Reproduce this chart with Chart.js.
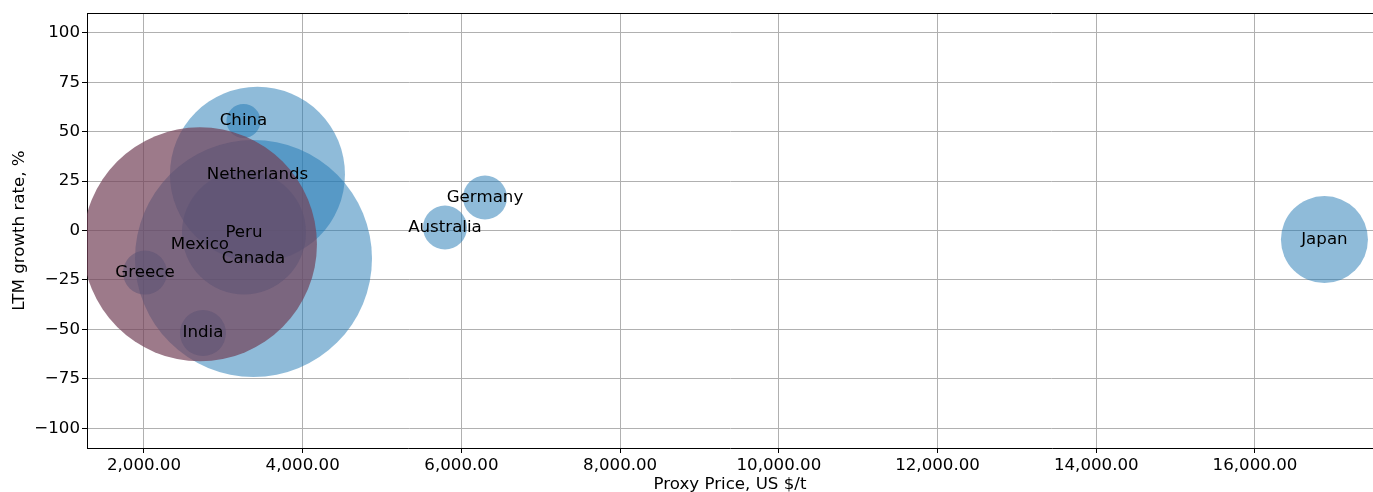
<!DOCTYPE html>
<html><head><meta charset="utf-8">
<script src="https://cdn.jsdelivr.net/npm/chart.js@4.4.0/dist/chart.umd.min.js"></script>
<style>html,body{margin:0;padding:0;background:#fff;} canvas{display:block;}</style>
</head><body>
<canvas id="c" width="1373" height="492"></canvas>
<script>
// Data
const countries   = ['Canada', 'Netherlands', 'Peru', 'China', 'Greece', 'India', 'Australia', 'Germany', 'Japan'];
const proxyPrice  = [3380, 3430, 3260, 3254, 2013, 2743, 5793, 6297, 16875];
const growthRate  = [-14.2, 28.4, -1.0, 55.4, -21.3, -51.9, 1.5, 16.7, -4.6];
const bubbleSize  = [118.5, 87.5, 62, 17, 22, 23, 22, 22, 43.5];

const highlightCountries = ['Mexico'];
const highlightPrice     = [2705];
const highlightGrowth    = [-7.0];
const highlightSize      = [117];

const xTickValues = [2000, 4000, 6000, 8000, 10000, 12000, 14000, 16000];
const yTickValues = [-100, -75, -50, -25, 0, 25, 50, 75, 100];

const FONT = '"DejaVu Sans", sans-serif';
const FSIZE = 16.67;

const toPoints = (xs, ys, rs) => xs.map((v, i) => ({ x: v, y: ys[i], r: rs[i] }));

const labelPlugin = {
  id: 'bubbleLabels',
  afterDraw(chart) {
    const { ctx, chartArea, scales: { x, y } } = chart;
    ctx.save();
    // top spine
    ctx.strokeStyle = '#000';
    ctx.lineWidth = 1;
    ctx.beginPath();
    ctx.moveTo(chartArea.left, chartArea.top + 0.5);
    ctx.lineTo(chartArea.right, chartArea.top + 0.5);
    ctx.stroke();
    // labels
    ctx.font = FSIZE + 'px ' + FONT;
    ctx.fillStyle = '#000';
    ctx.textAlign = 'center';
    ctx.textBaseline = 'middle';
    const draw = (names, xs, ys) => names.forEach((n, i) => {
      ctx.fillText(n, x.getPixelForValue(xs[i]), y.getPixelForValue(ys[i]));
    });
    draw(countries, proxyPrice, growthRate);
    draw(highlightCountries, highlightPrice, highlightGrowth);
    ctx.restore();
  }
};

new Chart(document.getElementById('c'), {
  type: 'bubble',
  data: {
    datasets: [
      {
        label: 'Highlight',
        data: toPoints(highlightPrice, highlightGrowth, highlightSize),
        backgroundColor: 'rgba(116,65,88,0.7)',
        borderWidth: 0,
        hoverBorderWidth: 0,
        order: 0,
        clip: 0
      },
      {
        label: 'Markets',
        data: toPoints(proxyPrice, growthRate, bubbleSize),
        backgroundColor: 'rgba(31,119,180,0.5)',
        borderWidth: 0,
        hoverBorderWidth: 0,
        order: 1,
        clip: 0
      }
    ]
  },
  options: {
    responsive: false,
    animation: false,
    events: [],
    layout: { autoPadding: false, padding: { top: 13, right: 0, left: 0, bottom: 0 } },
    plugins: { legend: { display: false }, tooltip: { enabled: false } },
    scales: {
      x: {
        type: 'linear',
        min: 1282,
        max: 17487,
        z: 1,
        afterBuildTicks: s => { s.ticks = xTickValues.map(v => ({ value: v })); },
        afterFit: s => { s.height = 44; },
        grid: { color: '#b0b0b0', lineWidth: 1, tickColor: '#000', tickLength: 5 },
        border: { display: true, color: '#000', width: 1 },
        ticks: {
          color: '#000',
          font: { family: FONT, size: FSIZE },
          padding: 3,
          maxRotation: 0,
          autoSkip: false,
          callback: v => Number(v).toLocaleString('en-US', { minimumFractionDigits: 2, maximumFractionDigits: 2 })
        },
        title: {
          display: true,
          text: 'Proxy Price, US $/t',
          color: '#000',
          font: { family: FONT, size: FSIZE },
          padding: { top: 0, bottom: -3 }
        }
      },
      y: {
        type: 'linear',
        min: -110,
        max: 110,
        z: 1,
        afterBuildTicks: s => { s.ticks = yTickValues.map(v => ({ value: v })); },
        afterFit: s => { s.width = 87; },
        grid: { color: '#b0b0b0', lineWidth: 1, tickColor: '#000', tickLength: 5 },
        border: { display: true, color: '#000', width: 1 },
        ticks: {
          color: '#000',
          font: { family: FONT, size: FSIZE },
          padding: 2,
          autoSkip: false,
          callback: v => String(v).replace('-', '\u2212')
        },
        title: {
          display: true,
          text: 'LTM growth rate, %',
          color: '#000',
          font: { family: FONT, size: FSIZE },
          padding: { top: 10, bottom: 0 }
        }
      }
    }
  },
  plugins: [labelPlugin]
});
</script>
</body></html>
